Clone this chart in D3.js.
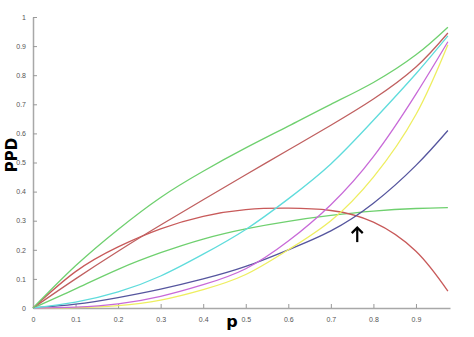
<!DOCTYPE html>
<html lang="en">
<head>
    <meta charset="UTF-8"/>
    <title>PPD vs p</title>
    <script type="text/javascript" src="https://d3js.org/d3.v7.min.js"></script>
    <style>
        body { margin: 0; background: #fff; }
        .tick text { font-family: "Liberation Sans", Arial, sans-serif; font-size: 7px; fill: #555; }
    </style>
</head>
<body>
<script type="text/javascript">

    // sample points along p
    var pValues = [0, 0.1, 0.2, 0.3, 0.4, 0.5, 0.6, 0.7, 0.8, 0.9, 0.975];

    // one array per curve
    var greenTop    = [0, 0.145, 0.27, 0.38, 0.47, 0.55, 0.625, 0.70, 0.775, 0.87, 0.965];
    var redUpper    = [0, 0.10, 0.195, 0.285, 0.372, 0.458, 0.543, 0.628, 0.718, 0.828, 0.945];
    var cyanCurve   = [0, 0.02, 0.055, 0.11, 0.185, 0.27, 0.375, 0.495, 0.645, 0.805, 0.935];
    var magenta     = [0, 0.003, 0.014, 0.04, 0.08, 0.135, 0.23, 0.355, 0.52, 0.735, 0.915];
    var yellowCurve = [0, 0.001, 0.008, 0.027, 0.063, 0.115, 0.20, 0.30, 0.45, 0.665, 0.905];
    var navyCurve   = [0, 0.013, 0.036, 0.065, 0.10, 0.143, 0.20, 0.265, 0.36, 0.49, 0.61];
    var redHump     = [0, 0.125, 0.21, 0.272, 0.315, 0.338, 0.343, 0.335, 0.295, 0.195, 0.058];
    var greenLow    = [0, 0.066, 0.133, 0.19, 0.237, 0.272, 0.298, 0.318, 0.333, 0.342, 0.345];

    var xTicks = [0, 0.1, 0.2, 0.3, 0.4, 0.5, 0.6, 0.7, 0.8, 0.9];
    var xTickLabels = ["0", "0.1", "0.2", "0.3", "0.4", "0.5", "0.6", "0.7", "0.8", "0.9"];
    var yTicks = [0, 0.1, 0.2, 0.3, 0.4, 0.5, 0.6, 0.7, 0.8, 0.9, 1];
    var yTickLabels = ["0", "0.1", "0.2", "0.3", "0.4", "0.5", "0.6", "0.7", "0.8", "0.9", "1"];
    var arrowAt = [0.762, 0.278];

    var series = [
        {vals: greenLow, color: "#6fd06f"},
        {vals: redHump, color: "#c85a5a"},
        {vals: navyCurve, color: "#55559e"},
        {vals: yellowCurve, color: "#eeee60"},
        {vals: magenta, color: "#c86ad8"},
        {vals: cyanCurve, color: "#5fdcdc"},
        {vals: redUpper, color: "#c06060"},
        {vals: greenTop, color: "#6fd06f"}
    ];

    var width = 474, height = 337;

    var x = d3.scaleLinear().domain([0, 0.98]).range([33, 450]);
    var y = d3.scaleLinear().domain([0, 1]).range([308, 17]);

    var svg = d3.select("body").append("svg")
        .attr("width", width)
        .attr("height", height);

    // x axis, ticks pointing inward
    var xAxis = d3.axisBottom(x)
        .tickValues(xTicks)
        .tickFormat(function (d, i) { return xTickLabels[i]; })
        .tickSizeInner(-4)
        .tickSizeOuter(0)
        .tickPadding(9);

    svg.append("g")
        .attr("transform", "translate(0," + y(0) + ")")
        .call(xAxis);

    // y axis
    var yAxis = d3.axisLeft(y)
        .tickValues(yTicks)
        .tickFormat(function (d, i) { return yTickLabels[i]; })
        .tickSizeInner(-4)
        .tickSizeOuter(0)
        .tickPadding(7);

    svg.append("g")
        .attr("transform", "translate(" + x(0) + ",0)")
        .call(yAxis);

    svg.selectAll(".domain").attr("stroke", "#a8a8a8").attr("stroke-width", 1.5);
    svg.selectAll(".tick line").attr("stroke", "#999");

    var line = d3.line()
        .x(function (d, i) { return x(pValues[i]); })
        .y(function (d) { return y(d); })
        .curve(d3.curveNatural);

    svg.append("g").selectAll("path")
        .data(series)
        .enter().append("path")
        .attr("d", function (s) { return line(s.vals); })
        .attr("fill", "none")
        .attr("stroke", function (s) { return s.color; })
        .attr("stroke-width", 1.3);

    // axis labels
    svg.append("text")
        .attr("transform", "translate(17,155) rotate(-90)")
        .attr("text-anchor", "middle")
        .attr("font-family", "DejaVu Sans, sans-serif")
        .attr("font-weight", "bold")
        .attr("font-size", "15px")
        .text("PPD");

    svg.append("text")
        .attr("x", 232)
        .attr("y", 327)
        .attr("text-anchor", "middle")
        .attr("font-family", "DejaVu Sans, sans-serif")
        .attr("font-weight", "bold")
        .attr("font-size", "16px")
        .text("p");

    // arrow pointing at the crossing
    var ax = x(arrowAt[0]), ay = y(arrowAt[1]);
    svg.append("line")
        .attr("x1", ax).attr("y1", ay + 1)
        .attr("x2", ax).attr("y2", ay + 15)
        .attr("stroke", "#000").attr("stroke-width", 2.2);
    svg.append("path")
        .attr("d", "M" + (ax - 5.5) + "," + (ay + 6) + " L" + ax + "," + (ay + 0.5) + " L" + (ax + 5.5) + "," + (ay + 6))
        .attr("fill", "none")
        .attr("stroke", "#000").attr("stroke-width", 2.2);

</script>
</body>
</html>
